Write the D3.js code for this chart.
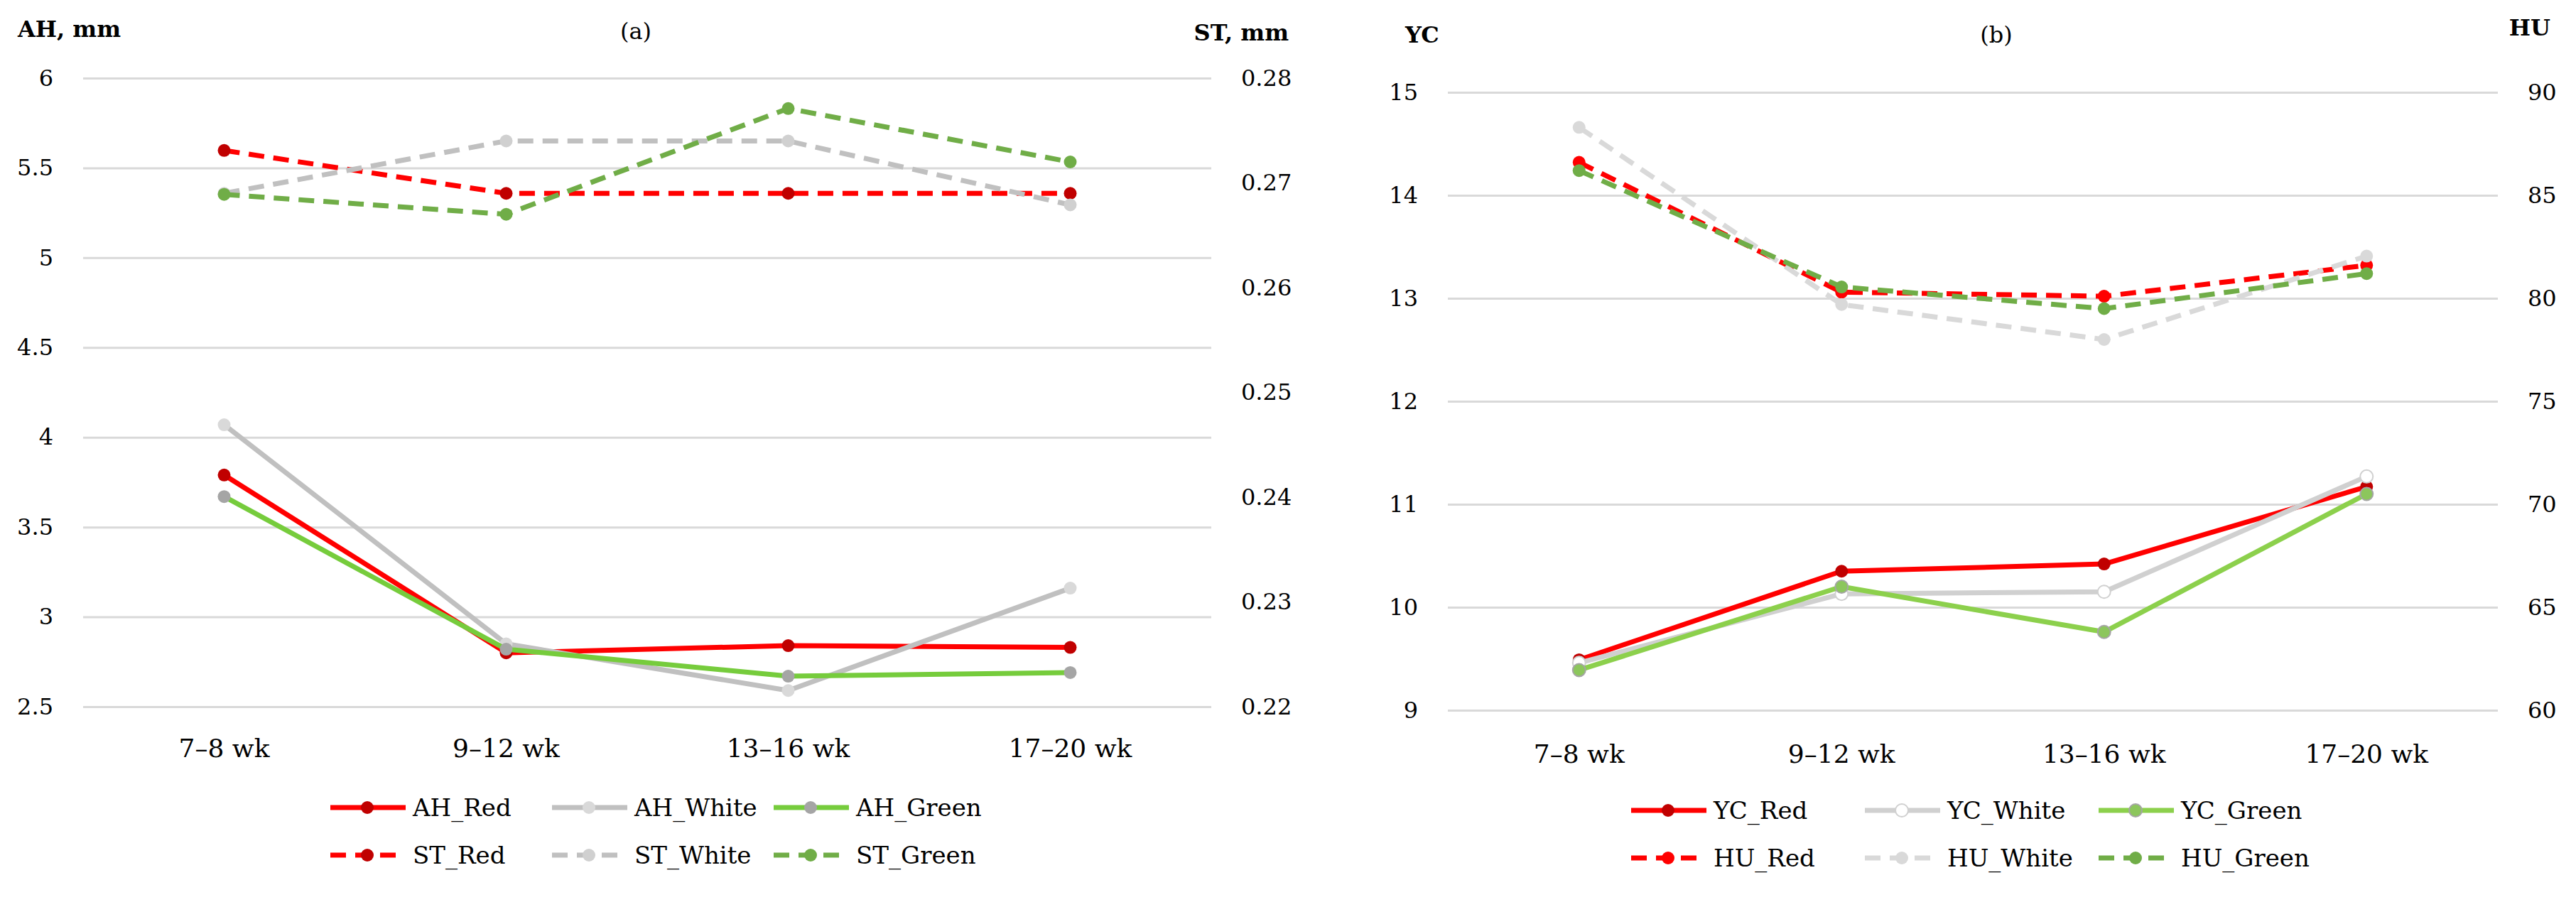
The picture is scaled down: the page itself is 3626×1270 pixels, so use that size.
<!DOCTYPE html>
<html>
<head>
<meta charset="utf-8">
<script src="https://cdn.jsdelivr.net/npm/d3@7"></script>
<style>
  body { margin: 0; background: #fff; }
  text { font-family: "DejaVu Serif", serif; fill: #000; }
</style>
</head>
<body>
<svg id="chart" width="3626" height="1270"></svg>
<script>
// categories shared by both panels
var categories = ["7–8 wk", "9–12 wk", "13–16 wk", "17–20 wk"];

// panel (a)
var ahTicks = [2.5, 3, 3.5, 4, 4.5, 5, 5.5, 6];
var stTicks = [0.22, 0.23, 0.24, 0.25, 0.26, 0.27, 0.28];
var ahRed   = [3.79, 2.80, 2.84, 2.83];
var ahWhite = [4.07, 2.85, 2.59, 3.16];
var ahGreen = [3.67, 2.82, 2.67, 2.69];
var stRed   = [0.2731, 0.2690, 0.2690, 0.2690];
var stWhite = [0.2690, 0.2740, 0.2740, 0.2679];
var stGreen = [0.2689, 0.2670, 0.2771, 0.2720];

// panel (b)
var ycTicks = [9, 10, 11, 12, 13, 14, 15];
var huTicks = [60, 65, 70, 75, 80, 85, 90];
var ycRed   = [9.49, 10.35, 10.42, 11.17];
var ycWhite = [9.46, 10.13, 10.15, 11.27];
var ycGreen = [9.39, 10.20, 9.76, 11.10];
var huRed   = [86.6, 80.3, 80.1, 81.6];
var huWhite = [88.3, 79.7, 78.0, 82.05];
var huGreen = [86.2, 80.55, 79.5, 81.2];

var svg = d3.select("#chart");

function drawPanel(p) {
	var g = svg.append("g");
	var width = p.x1 - p.x0;

	var xScale = d3.scaleBand().domain(categories).range([p.x0, p.x1]).padding(0);
	var yLeft = d3.scaleLinear().domain(d3.extent(p.leftTicks)).range([p.y1, p.y0]);
	var yRight = d3.scaleLinear().domain(d3.extent(p.rightTicks)).range([p.y1, p.y0]);

	// gridlines from the left axis
	g.append("g")
		.attr("transform", "translate(" + p.x0 + ",0)")
		.call(d3.axisLeft(yLeft).tickValues(p.leftTicks).tickSize(-width).tickFormat(""))
		.call(a => a.select(".domain").remove())
		.selectAll("line").attr("stroke", "#d9d9d9").attr("stroke-width", 3);

	// tick labels
	g.append("g")
		.attr("transform", "translate(" + p.x0 + ",0)")
		.call(d3.axisLeft(yLeft).tickValues(p.leftTicks).tickSize(0).tickPadding(42).tickFormat(p.leftFmt))
		.call(a => a.select(".domain").remove())
		.selectAll("text").style("font-size", "32px").attr("font-family", null);
	g.append("g")
		.attr("transform", "translate(" + p.x1 + ",0)")
		.call(d3.axisRight(yRight).tickValues(p.rightTicks).tickSize(0).tickPadding(42).tickFormat(p.rightFmt))
		.call(a => a.select(".domain").remove())
		.selectAll("text").style("font-size", "32px").attr("font-family", null);

	// category axis
	g.append("g")
		.attr("transform", "translate(0," + p.y1 + ")")
		.call(d3.axisBottom(xScale).tickSize(0).tickPadding(p.catPad))
		.call(a => a.select(".domain").remove())
		.selectAll("text").style("font-size", "36px").attr("font-family", null);

	// titles
	g.append("text").attr("x", p.titleL.x).attr("y", p.titleL.y)
		.style("font-size", "32px").style("font-weight", "bold").text(p.titleL.t);
	g.append("text").attr("x", p.titleR.x).attr("y", p.titleR.y).attr("text-anchor", "end")
		.style("font-size", "32px").style("font-weight", "bold").text(p.titleR.t);
	g.append("text").attr("x", p.panel.x).attr("y", p.panel.y).attr("text-anchor", "middle")
		.style("font-size", "32px").text(p.panel.t);

	var line = function(scale) {
		return d3.line().x((d, i) => xScale(categories[i]) + xScale.bandwidth() / 2).y(d => scale(d));
	};

	var all = p.series.map(s => Object.assign({ scale: s.axis == "right" ? yRight : yLeft }, s));

	all.forEach(function(s) {
		g.append("path")
			.datum(s.values)
			.attr("d", line(s.scale))
			.attr("fill", "none")
			.attr("stroke", s.color)
			.attr("stroke-width", 7)
			.attr("stroke-linejoin", "round")
			.attr("stroke-dasharray", s.dashed ? "22,13" : null);
		g.selectAll(null)
			.data(s.values)
			.enter().append("circle")
			.attr("cx", (d, i) => xScale(categories[i]) + xScale.bandwidth() / 2)
			.attr("cy", d => s.scale(d))
			.attr("r", 9)
			.attr("fill", s.marker)
			.attr("stroke", s.markerStroke || "none")
			.attr("stroke-width", 2);
	});

	// legend, 3 per row
	all.forEach(function(s, i) {
		var col = i % 3, row = Math.floor(i / 3);
		var lx = p.legend.x + col * p.legend.step, ly = p.legend.rows[row];
		var len = s.dashed ? 96 : 106;
		g.append("line")
			.attr("x1", lx).attr("x2", lx + len).attr("y1", ly).attr("y2", ly)
			.attr("stroke", s.color).attr("stroke-width", 7)
			.attr("stroke-dasharray", s.dashed ? "22,13" : null);
		g.append("circle").attr("cx", lx + 52).attr("cy", ly).attr("r", 9)
			.attr("fill", s.marker).attr("stroke", s.markerStroke || "none").attr("stroke-width", 2);
		g.append("text").attr("x", lx + 116).attr("y", ly).attr("dy", "0.35em")
			.style("font-size", "34px").text(s.name);
	});
}

drawPanel({
	x0: 117, x1: 1705, y0: 110, y1: 995,
	leftTicks: ahTicks, rightTicks: stTicks,
	leftFmt: d => d, rightFmt: d3.format(".2f"),
	catPad: 45,
	titleL: { t: "AH, mm", x: 25, y: 52 },
	titleR: { t: "ST, mm", x: 1814, y: 57 },
	panel: { t: "(a)", x: 895, y: 55 },
	series: [
		{ name: "AH_Red", values: ahRed, color: "#ff0000", marker: "#c00000" },
		{ name: "AH_White", values: ahWhite, color: "#c0c0c0", marker: "#d9d9d9" },
		{ name: "AH_Green", values: ahGreen, color: "#76cc3c", marker: "#a5a5a5" },
		{ name: "ST_Red", values: stRed, color: "#ff0000", marker: "#c00000", axis: "right", dashed: true },
		{ name: "ST_White", values: stWhite, color: "#c0c0c0", marker: "#d0d0d0", axis: "right", dashed: true },
		{ name: "ST_Green", values: stGreen, color: "#70ad47", marker: "#70ad47", axis: "right", dashed: true }
	],
	legend: { x: 465, step: 312, rows: [1137, 1204] }
});

drawPanel({
	x0: 2038, x1: 3516, y0: 130, y1: 1000,
	leftTicks: ycTicks, rightTicks: huTicks,
	leftFmt: d => d, rightFmt: d => d,
	catPad: 48,
	titleL: { t: "YC", x: 1978, y: 60 },
	titleR: { t: "HU", x: 3590, y: 50 },
	panel: { t: "(b)", x: 2810, y: 60 },
	series: [
		{ name: "YC_Red", values: ycRed, color: "#ff0000", marker: "#c00000" },
		{ name: "YC_White", values: ycWhite, color: "#d0d0d0", marker: "#ffffff", markerStroke: "#d0d0d0" },
		{ name: "YC_Green", values: ycGreen, color: "#8cd04c", marker: "#8cc65c", markerStroke: "#a5a5a5" },
		{ name: "HU_Red", values: huRed, color: "#ff0000", marker: "#ff0000", axis: "right", dashed: true },
		{ name: "HU_White", values: huWhite, color: "#d9d9d9", marker: "#d9d9d9", axis: "right", dashed: true },
		{ name: "HU_Green", values: huGreen, color: "#70ad47", marker: "#70ad47", axis: "right", dashed: true }
	],
	legend: { x: 2296, step: 329, rows: [1141, 1208] }
});
</script>
</body>
</html>
